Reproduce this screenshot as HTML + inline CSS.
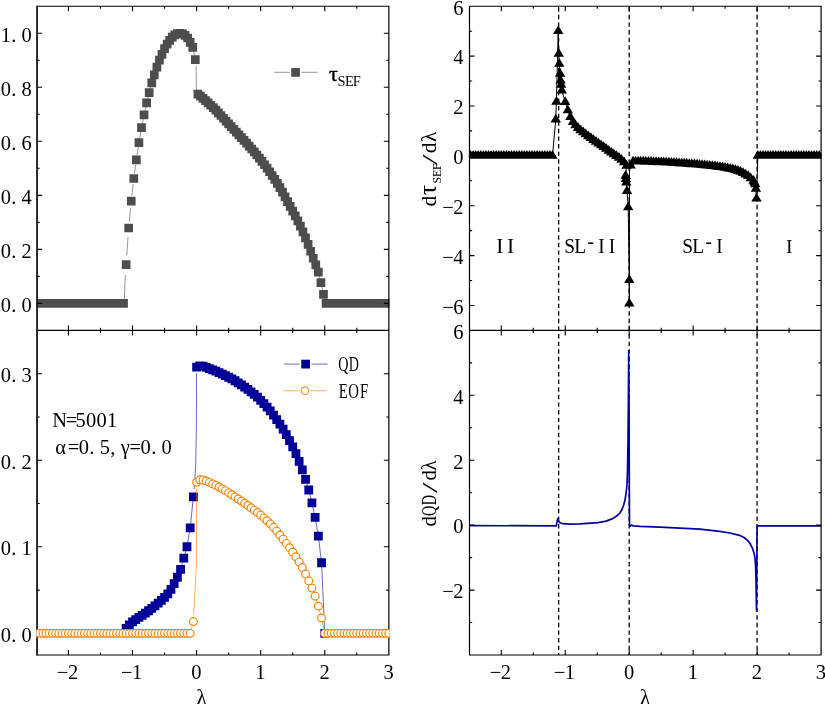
<!DOCTYPE html>
<html><head><meta charset="utf-8"><title>plot</title>
<style>html,body{margin:0;padding:0;background:#fff}svg{display:block}text{font-family:"Liberation Serif",serif;fill:#000}</style></head><body>
<svg width="825" height="704" viewBox="0 0 825 704">
<rect width="825" height="704" fill="#fff"/>
<defs>
<clipPath id="cTL"><rect x="36.5" y="5.65" width="352.95" height="325.35"/></clipPath>
<clipPath id="cBL"><rect x="36.5" y="329.8" width="352.95" height="325.8"/></clipPath>
<clipPath id="cTR"><rect x="468.9" y="5.65" width="352.8" height="325.35"/></clipPath>
<clipPath id="cBR"><rect x="468.9" y="329.8" width="352.8" height="325.8"/></clipPath>
</defs>
<path d="M558.66 7.25V655" stroke="#000" stroke-width="1.3" stroke-dasharray="4.4 3.2" fill="none"/>
<path d="M629.2 7.25V655" stroke="#000" stroke-width="1.3" stroke-dasharray="4.4 3.2" fill="none"/>
<path d="M757.1 7.25V655" stroke="#000" stroke-width="1.3" stroke-dasharray="4.4 3.2" fill="none"/>
<g clip-path="url(#cTL)">
<path d="M126.75 255.52L128.03 237.18M129.32 221.3L130.6 207.9M131.88 195.52L133.16 184.18M134.44 173.82L135.72 164.48M137.01 155.5L138.29 146.9M139.57 138.88L140.85 131.43M142.13 124.5L143.41 118.1M144.7 111.88L145.98 105.83M147.26 100.25L148.54 95.15M149.82 90.15L151.1 85.25M193.4 50.45L194.68 56.55M318.99 274.77L320.27 279.98M321.56 285.56L322.84 291.5M324.12 296.7L325.4 301.16M125.3 275L124.4 299.5M196.1 66L196.4 91.5" fill="none" stroke="#4d4d4d" stroke-width="0.6"/>
<path d="M32.05 299.04h8.7v8.7h-8.7zM34.61 299.04h8.7v8.7h-8.7zM37.18 299.04h8.7v8.7h-8.7zM39.74 299.04h8.7v8.7h-8.7zM42.3 299.04h8.7v8.7h-8.7zM44.87 299.04h8.7v8.7h-8.7zM47.43 299.04h8.7v8.7h-8.7zM49.99 299.04h8.7v8.7h-8.7zM52.56 299.04h8.7v8.7h-8.7zM55.12 299.04h8.7v8.7h-8.7zM57.68 299.04h8.7v8.7h-8.7zM60.25 299.04h8.7v8.7h-8.7zM62.81 299.04h8.7v8.7h-8.7zM65.37 299.04h8.7v8.7h-8.7zM67.93 299.04h8.7v8.7h-8.7zM70.5 299.04h8.7v8.7h-8.7zM73.06 299.04h8.7v8.7h-8.7zM75.62 299.04h8.7v8.7h-8.7zM78.19 299.04h8.7v8.7h-8.7zM80.75 299.04h8.7v8.7h-8.7zM83.31 299.04h8.7v8.7h-8.7zM85.88 299.04h8.7v8.7h-8.7zM88.44 299.04h8.7v8.7h-8.7zM91 299.04h8.7v8.7h-8.7zM93.57 299.04h8.7v8.7h-8.7zM96.13 299.04h8.7v8.7h-8.7zM98.69 299.04h8.7v8.7h-8.7zM101.26 299.04h8.7v8.7h-8.7zM103.82 299.04h8.7v8.7h-8.7zM106.38 299.04h8.7v8.7h-8.7zM108.95 299.04h8.7v8.7h-8.7zM111.51 299.04h8.7v8.7h-8.7zM114.07 299.04h8.7v8.7h-8.7zM116.64 299.04h8.7v8.7h-8.7zM119.2 299.04h8.7v8.7h-8.7zM121.76 260.35h8.7v8.7h-8.7zM124.33 223.65h8.7v8.7h-8.7zM126.89 196.85h8.7v8.7h-8.7zM129.45 174.15h8.7v8.7h-8.7zM132.01 155.45h8.7v8.7h-8.7zM134.58 138.25h8.7v8.7h-8.7zM137.14 123.35h8.7v8.7h-8.7zM139.7 110.55h8.7v8.7h-8.7zM142.27 98.45h8.7v8.7h-8.7zM144.83 88.25h8.7v8.7h-8.7zM147.39 78.45h8.7v8.7h-8.7zM149.96 70.45h8.7v8.7h-8.7zM152.52 62.75h8.7v8.7h-8.7zM155.08 55.75h8.7v8.7h-8.7zM157.65 50.05h8.7v8.7h-8.7zM160.21 44.25h8.7v8.7h-8.7zM162.77 39.75h8.7v8.7h-8.7zM165.34 35.95h8.7v8.7h-8.7zM167.9 32.75h8.7v8.7h-8.7zM170.46 30.45h8.7v8.7h-8.7zM173.03 29.15h8.7v8.7h-8.7zM175.59 28.95h8.7v8.7h-8.7zM178.15 29.55h8.7v8.7h-8.7zM180.72 31.05h8.7v8.7h-8.7zM183.28 33.65h8.7v8.7h-8.7zM185.84 37.95h8.7v8.7h-8.7zM188.41 43.05h8.7v8.7h-8.7zM190.97 55.25h8.7v8.7h-8.7zM193.53 89.69h8.7v8.7h-8.7zM196.09 91.78h8.7v8.7h-8.7zM198.66 93.95h8.7v8.7h-8.7zM201.22 96.2h8.7v8.7h-8.7zM203.78 98.51h8.7v8.7h-8.7zM206.35 100.88h8.7v8.7h-8.7zM208.91 103.31h8.7v8.7h-8.7zM211.47 105.82h8.7v8.7h-8.7zM214.04 108.44h8.7v8.7h-8.7zM216.6 111.14h8.7v8.7h-8.7zM219.16 113.91h8.7v8.7h-8.7zM221.73 116.7h8.7v8.7h-8.7zM224.29 119.48h8.7v8.7h-8.7zM226.85 122.24h8.7v8.7h-8.7zM229.42 124.99h8.7v8.7h-8.7zM231.98 127.73h8.7v8.7h-8.7zM234.54 130.48h8.7v8.7h-8.7zM237.11 133.24h8.7v8.7h-8.7zM239.67 136.02h8.7v8.7h-8.7zM242.23 138.84h8.7v8.7h-8.7zM244.8 141.71h8.7v8.7h-8.7zM247.36 144.63h8.7v8.7h-8.7zM249.92 147.61h8.7v8.7h-8.7zM252.49 150.67h8.7v8.7h-8.7zM255.05 153.81h8.7v8.7h-8.7zM257.61 157.04h8.7v8.7h-8.7zM260.17 160.38h8.7v8.7h-8.7zM262.74 163.84h8.7v8.7h-8.7zM265.3 167.42h8.7v8.7h-8.7zM267.86 171.14h8.7v8.7h-8.7zM270.43 175.01h8.7v8.7h-8.7zM272.99 179.06h8.7v8.7h-8.7zM275.55 183.36h8.7v8.7h-8.7zM278.12 187.86h8.7v8.7h-8.7zM280.68 192.5h8.7v8.7h-8.7zM283.24 197.23h8.7v8.7h-8.7zM285.81 201.99h8.7v8.7h-8.7zM288.37 206.75h8.7v8.7h-8.7zM290.93 211.59h8.7v8.7h-8.7zM293.5 216.6h8.7v8.7h-8.7zM296.06 221.85h8.7v8.7h-8.7zM298.62 227.45h8.7v8.7h-8.7zM301.19 233.57h8.7v8.7h-8.7zM303.75 240.04h8.7v8.7h-8.7zM306.31 246.89h8.7v8.7h-8.7zM308.88 253.9h8.7v8.7h-8.7zM311.44 260.46h8.7v8.7h-8.7zM314 267.82h8.7v8.7h-8.7zM316.57 278.24h8.7v8.7h-8.7zM319.13 290.12h8.7v8.7h-8.7zM321.69 299.04h8.7v8.7h-8.7zM324.25 299.04h8.7v8.7h-8.7zM326.82 299.04h8.7v8.7h-8.7zM329.38 299.04h8.7v8.7h-8.7zM331.94 299.04h8.7v8.7h-8.7zM334.51 299.04h8.7v8.7h-8.7zM337.07 299.04h8.7v8.7h-8.7zM339.63 299.04h8.7v8.7h-8.7zM342.2 299.04h8.7v8.7h-8.7zM344.76 299.04h8.7v8.7h-8.7zM347.32 299.04h8.7v8.7h-8.7zM349.89 299.04h8.7v8.7h-8.7zM352.45 299.04h8.7v8.7h-8.7zM355.01 299.04h8.7v8.7h-8.7zM357.58 299.04h8.7v8.7h-8.7zM360.14 299.04h8.7v8.7h-8.7zM362.7 299.04h8.7v8.7h-8.7zM365.27 299.04h8.7v8.7h-8.7zM367.83 299.04h8.7v8.7h-8.7zM370.39 299.04h8.7v8.7h-8.7zM372.96 299.04h8.7v8.7h-8.7zM375.52 299.04h8.7v8.7h-8.7zM378.08 299.04h8.7v8.7h-8.7zM380.65 299.04h8.7v8.7h-8.7zM383.21 299.04h8.7v8.7h-8.7z" fill="#4d4d4d"/>
</g>
<g clip-path="url(#cTR)">
<path d="M470.6 155.86L473.16 155.86L475.72 155.86L478.28 155.86L480.84 155.86L483.39 155.86L485.95 155.86L488.51 155.86L491.07 155.86L493.63 155.86L496.18 155.86L498.74 155.86L501.3 155.86L503.86 155.86L506.42 155.86L508.97 155.86L511.53 155.86L514.09 155.86L516.65 155.86L519.21 155.86L521.76 155.86L524.32 155.86L526.88 155.86L529.44 155.86L532 155.86L534.55 155.86L537.11 155.86L539.67 155.86L542.23 155.86L544.79 155.86L547.34 155.86L549.9 155.86L552.46 155.86L555.75 119.7L556.4 101.75L558.2 31.18L558.75 53.88L559.3 63.85L560.1 73.82L560.6 80.56L561.2 84.79L561.8 90.53L565.25 102.08L567.81 110.32L570.37 117.19L572.92 122L575.48 125.32L578.04 127.97L580.6 130.28L583.16 132.36L585.71 134.29L588.27 136.23L590.83 138.14L593.39 139.99L595.95 141.75L598.5 143.47L601.06 145.24L603.62 147.03L606.18 148.84L608.74 150.71L611.29 152.59L613.85 154.37L616.41 156.07L618.97 157.9L621.53 159.88L624.08 162.3L626.64 165.83L625.6 175.81L625.9 179.05L626.3 182.54L627 191.02L628.2 207.22L629.3 280.03L629.3 303.47L629.5 170.82L630.7 165.58L633.04 161.48L635.6 161.52L638.15 161.58L640.71 161.64L643.27 161.71L645.83 161.78L648.38 161.87L650.94 161.95L653.5 162.04L656.06 162.14L658.62 162.24L661.18 162.34L663.73 162.45L666.29 162.57L668.85 162.7L671.41 162.85L673.97 163L676.52 163.16L679.08 163.32L681.64 163.5L684.2 163.67L686.76 163.86L689.31 164.04L691.87 164.23L694.43 164.42L696.99 164.62L699.55 164.82L702.1 165.04L704.66 165.27L707.22 165.52L709.78 165.79L712.34 166.08L714.89 166.39L717.45 166.71L720.01 167.07L722.57 167.45L725.13 167.87L727.68 168.34L730.24 168.85L732.8 169.43L735.36 170.07L737.92 170.87L740.47 171.9L743.03 173.13L745.59 174.54L748.15 176.18L750.71 178.35L753.6 180.79L754.4 182.54L755.3 184.28L755.9 188.77L756.5 198.5L757.8 155.86L760.36 155.86L762.92 155.86L765.48 155.86L768.04 155.86L770.59 155.86L773.15 155.86L775.71 155.86L778.27 155.86L780.83 155.86L783.38 155.86L785.94 155.86L788.5 155.86L791.06 155.86L793.62 155.86L796.17 155.86L798.73 155.86L801.29 155.86L803.85 155.86L806.41 155.86L808.96 155.86L811.52 155.86L814.08 155.86L816.64 155.86L819.2 155.86" fill="none" stroke="#000" stroke-width="1"/>
<path d="M470.6 150.02l5.2 8.75h-10.4zM473.16 150.02l5.2 8.75h-10.4zM475.72 150.02l5.2 8.75h-10.4zM478.28 150.02l5.2 8.75h-10.4zM480.84 150.02l5.2 8.75h-10.4zM483.39 150.02l5.2 8.75h-10.4zM485.95 150.02l5.2 8.75h-10.4zM488.51 150.02l5.2 8.75h-10.4zM491.07 150.02l5.2 8.75h-10.4zM493.63 150.02l5.2 8.75h-10.4zM496.18 150.02l5.2 8.75h-10.4zM498.74 150.02l5.2 8.75h-10.4zM501.3 150.02l5.2 8.75h-10.4zM503.86 150.02l5.2 8.75h-10.4zM506.42 150.02l5.2 8.75h-10.4zM508.97 150.02l5.2 8.75h-10.4zM511.53 150.02l5.2 8.75h-10.4zM514.09 150.02l5.2 8.75h-10.4zM516.65 150.02l5.2 8.75h-10.4zM519.21 150.02l5.2 8.75h-10.4zM521.76 150.02l5.2 8.75h-10.4zM524.32 150.02l5.2 8.75h-10.4zM526.88 150.02l5.2 8.75h-10.4zM529.44 150.02l5.2 8.75h-10.4zM532 150.02l5.2 8.75h-10.4zM534.55 150.02l5.2 8.75h-10.4zM537.11 150.02l5.2 8.75h-10.4zM539.67 150.02l5.2 8.75h-10.4zM542.23 150.02l5.2 8.75h-10.4zM544.79 150.02l5.2 8.75h-10.4zM547.34 150.02l5.2 8.75h-10.4zM549.9 150.02l5.2 8.75h-10.4zM552.46 150.02l5.2 8.75h-10.4zM555.75 113.87l5.2 8.75h-10.4zM556.4 95.92l5.2 8.75h-10.4zM558.2 25.35l5.2 8.75h-10.4zM558.75 48.04l5.2 8.75h-10.4zM559.3 58.02l5.2 8.75h-10.4zM560.1 67.99l5.2 8.75h-10.4zM560.6 74.72l5.2 8.75h-10.4zM561.2 78.96l5.2 8.75h-10.4zM561.8 84.7l5.2 8.75h-10.4zM565.25 96.25l5.2 8.75h-10.4zM567.81 104.49l5.2 8.75h-10.4zM570.37 111.36l5.2 8.75h-10.4zM572.92 116.17l5.2 8.75h-10.4zM575.48 119.48l5.2 8.75h-10.4zM578.04 122.14l5.2 8.75h-10.4zM580.6 124.45l5.2 8.75h-10.4zM583.16 126.52l5.2 8.75h-10.4zM585.71 128.46l5.2 8.75h-10.4zM588.27 130.39l5.2 8.75h-10.4zM590.83 132.31l5.2 8.75h-10.4zM593.39 134.16l5.2 8.75h-10.4zM595.95 135.92l5.2 8.75h-10.4zM598.5 137.64l5.2 8.75h-10.4zM601.06 139.41l5.2 8.75h-10.4zM603.62 141.19l5.2 8.75h-10.4zM606.18 143.01l5.2 8.75h-10.4zM608.74 144.88l5.2 8.75h-10.4zM611.29 146.75l5.2 8.75h-10.4zM613.85 148.54l5.2 8.75h-10.4zM616.41 150.24l5.2 8.75h-10.4zM618.97 152.07l5.2 8.75h-10.4zM621.53 154.05l5.2 8.75h-10.4zM624.08 156.47l5.2 8.75h-10.4zM626.64 160l5.2 8.75h-10.4zM625.6 169.97l5.2 8.75h-10.4zM625.9 173.21l5.2 8.75h-10.4zM626.3 176.7l5.2 8.75h-10.4zM627 185.18l5.2 8.75h-10.4zM628.2 201.39l5.2 8.75h-10.4zM629.3 274.2l5.2 8.75h-10.4zM629.3 297.64l5.2 8.75h-10.4zM630.7 159.75l5.2 8.75h-10.4zM633.04 155.64l5.2 8.75h-10.4zM635.6 155.69l5.2 8.75h-10.4zM638.15 155.74l5.2 8.75h-10.4zM640.71 155.81l5.2 8.75h-10.4zM643.27 155.87l5.2 8.75h-10.4zM645.83 155.95l5.2 8.75h-10.4zM648.38 156.03l5.2 8.75h-10.4zM650.94 156.12l5.2 8.75h-10.4zM653.5 156.21l5.2 8.75h-10.4zM656.06 156.31l5.2 8.75h-10.4zM658.62 156.41l5.2 8.75h-10.4zM661.18 156.51l5.2 8.75h-10.4zM663.73 156.62l5.2 8.75h-10.4zM666.29 156.74l5.2 8.75h-10.4zM668.85 156.87l5.2 8.75h-10.4zM671.41 157.01l5.2 8.75h-10.4zM673.97 157.17l5.2 8.75h-10.4zM676.52 157.32l5.2 8.75h-10.4zM679.08 157.49l5.2 8.75h-10.4zM681.64 157.66l5.2 8.75h-10.4zM684.2 157.84l5.2 8.75h-10.4zM686.76 158.02l5.2 8.75h-10.4zM689.31 158.21l5.2 8.75h-10.4zM691.87 158.39l5.2 8.75h-10.4zM694.43 158.58l5.2 8.75h-10.4zM696.99 158.78l5.2 8.75h-10.4zM699.55 158.99l5.2 8.75h-10.4zM702.1 159.21l5.2 8.75h-10.4zM704.66 159.44l5.2 8.75h-10.4zM707.22 159.69l5.2 8.75h-10.4zM709.78 159.96l5.2 8.75h-10.4zM712.34 160.25l5.2 8.75h-10.4zM714.89 160.56l5.2 8.75h-10.4zM717.45 160.88l5.2 8.75h-10.4zM720.01 161.23l5.2 8.75h-10.4zM722.57 161.62l5.2 8.75h-10.4zM725.13 162.04l5.2 8.75h-10.4zM727.68 162.5l5.2 8.75h-10.4zM730.24 163.02l5.2 8.75h-10.4zM732.8 163.6l5.2 8.75h-10.4zM735.36 164.24l5.2 8.75h-10.4zM737.92 165.04l5.2 8.75h-10.4zM740.47 166.07l5.2 8.75h-10.4zM743.03 167.3l5.2 8.75h-10.4zM745.59 168.71l5.2 8.75h-10.4zM748.15 170.35l5.2 8.75h-10.4zM750.71 172.52l5.2 8.75h-10.4zM753.6 174.96l5.2 8.75h-10.4zM754.4 176.7l5.2 8.75h-10.4zM755.3 178.45l5.2 8.75h-10.4zM755.9 182.94l5.2 8.75h-10.4zM756.5 192.66l5.2 8.75h-10.4zM757.8 150.02l5.2 8.75h-10.4zM760.36 150.02l5.2 8.75h-10.4zM762.92 150.02l5.2 8.75h-10.4zM765.48 150.02l5.2 8.75h-10.4zM768.04 150.02l5.2 8.75h-10.4zM770.59 150.02l5.2 8.75h-10.4zM773.15 150.02l5.2 8.75h-10.4zM775.71 150.02l5.2 8.75h-10.4zM778.27 150.02l5.2 8.75h-10.4zM780.83 150.02l5.2 8.75h-10.4zM783.38 150.02l5.2 8.75h-10.4zM785.94 150.02l5.2 8.75h-10.4zM788.5 150.02l5.2 8.75h-10.4zM791.06 150.02l5.2 8.75h-10.4zM793.62 150.02l5.2 8.75h-10.4zM796.17 150.02l5.2 8.75h-10.4zM798.73 150.02l5.2 8.75h-10.4zM801.29 150.02l5.2 8.75h-10.4zM803.85 150.02l5.2 8.75h-10.4zM806.41 150.02l5.2 8.75h-10.4zM808.96 150.02l5.2 8.75h-10.4zM811.52 150.02l5.2 8.75h-10.4zM814.08 150.02l5.2 8.75h-10.4zM816.64 150.02l5.2 8.75h-10.4zM819.2 150.02l5.2 8.75h-10.4z" fill="#000"/>
</g>
<g clip-path="url(#cBR)">
<path d="M469.5 525.66L556.3 525.8L557 522L557.7 518.6L558.6 521L560 522.8L563 523.7L569 524.1L580 523.8L598.2 522.7L606 521.1L612.7 518.6L617 515.8L620 512.8L622 509.5L623.6 505.2L625 500L625.8 495L626.5 489.5L627 484.9L627.5 470.5L628 440.5L628.4 400.5L628.7 350.8L629 400.5L629.3 480.5L629.5 525.3L630.2 526.1L631.5 525L633 525.8L640 526.4L660 527.2L699.8 529.1L719.6 531.3L730 533L739.5 535.3L744 537.5L747.5 540.3L750 543.5L752.4 548.2L754 553L755 558.2L755.6 566.5L756 580L756.3 597.5L756.5 610.8L756.8 570.5L757.1 525.8L821.1 525.8" fill="none" stroke="#0000a8" stroke-width="1.7" stroke-linejoin="round"/>
</g>
<path d="M37.1 6.25H388.85V655H37.1Z M37.1 330.4H388.85" fill="none" stroke="#000" stroke-width="1.2"/>
<path d="M37.1 5.65V655.6" fill="none" stroke="#222" stroke-width="1.7"/>
<path d="M469.5 6.25H821.1V655H469.5Z M469.5 330.4H821.1" fill="none" stroke="#000" stroke-width="1.2"/>
<path d="M68.44 6.25V11.25M68.44 325.4V335.4M68.44 650V655M100.48 6.25V8.85M100.48 327.8V333M100.48 652.4V655M132.52 6.25V11.25M132.52 325.4V335.4M132.52 650V655M164.56 6.25V8.85M164.56 327.8V333M164.56 652.4V655M196.6 6.25V11.25M196.6 325.4V335.4M196.6 650V655M228.64 6.25V8.85M228.64 327.8V333M228.64 652.4V655M260.68 6.25V11.25M260.68 325.4V335.4M260.68 650V655M292.72 6.25V8.85M292.72 327.8V333M292.72 652.4V655M324.76 6.25V11.25M324.76 325.4V335.4M324.76 650V655M356.8 6.25V8.85M356.8 327.8V333M356.8 652.4V655M501.3 6.25V11.25M501.3 325.4V335.4M501.3 650V655M533.28 6.25V8.85M533.28 327.8V333M533.28 652.4V655M565.25 6.25V11.25M565.25 325.4V335.4M565.25 650V655M597.23 6.25V8.85M597.23 327.8V333M597.23 652.4V655M629.2 6.25V11.25M629.2 325.4V335.4M629.2 650V655M661.18 6.25V8.85M661.18 327.8V333M661.18 652.4V655M693.15 6.25V11.25M693.15 325.4V335.4M693.15 650V655M725.12 6.25V8.85M725.12 327.8V333M725.12 652.4V655M757.1 6.25V11.25M757.1 325.4V335.4M757.1 650V655M789.08 6.25V8.85M789.08 327.8V333M789.08 652.4V655M37.1 303.39H42.1M383.85 303.39H388.85M37.1 249.36H42.1M383.85 249.36H388.85M37.1 195.34H42.1M383.85 195.34H388.85M37.1 141.31H42.1M383.85 141.31H388.85M37.1 87.29H42.1M383.85 87.29H388.85M37.1 33.26H42.1M383.85 33.26H388.85M37.1 276.38H39.7M386.25 276.38H388.85M37.1 222.35H39.7M386.25 222.35H388.85M37.1 168.32H39.7M386.25 168.32H388.85M37.1 114.3H39.7M386.25 114.3H388.85M37.1 60.27H39.7M386.25 60.27H388.85M37.1 633.36H42.1M383.85 633.36H388.85M37.1 546.8H42.1M383.85 546.8H388.85M37.1 460.24H42.1M383.85 460.24H388.85M37.1 373.68H42.1M383.85 373.68H388.85M37.1 590.08H39.7M386.25 590.08H388.85M37.1 503.52H39.7M386.25 503.52H388.85M37.1 416.96H39.7M386.25 416.96H388.85M469.5 305.47H474.5M816.1 305.47H821.1M469.5 255.6H474.5M816.1 255.6H821.1M469.5 205.73H474.5M816.1 205.73H821.1M469.5 155.86H474.5M816.1 155.86H821.1M469.5 105.99H474.5M816.1 105.99H821.1M469.5 56.12H474.5M816.1 56.12H821.1M469.5 280.53H472.1M818.5 280.53H821.1M469.5 230.66H472.1M818.5 230.66H821.1M469.5 180.79H472.1M818.5 180.79H821.1M469.5 130.92H472.1M818.5 130.92H821.1M469.5 81.05H472.1M818.5 81.05H821.1M469.5 31.18H472.1M818.5 31.18H821.1M469.5 590.08H474.5M816.1 590.08H821.1M469.5 525.16H474.5M816.1 525.16H821.1M469.5 460.24H474.5M816.1 460.24H821.1M469.5 395.32H474.5M816.1 395.32H821.1M469.5 622.54H472.1M818.5 622.54H821.1M469.5 557.62H472.1M818.5 557.62H821.1M469.5 492.7H472.1M818.5 492.7H821.1M469.5 427.78H472.1M818.5 427.78H821.1M469.5 362.86H472.1M818.5 362.86H821.1" fill="none" stroke="#000" stroke-width="1.1"/>
<g clip-path="url(#cBL)">
<path d="M180.77 568.63L183.59 558.73M183.98 557.38L186.8 547.41M187.18 545.6L190 528.94M190.38 525.94L193.2 498.68M299.32 461.87L302.14 469.36M302.52 470.44L305.34 478.75M305.73 479.96L308.55 489.36M308.93 490.77L311.75 502.05M312.14 503.69L314.96 516.52M315.34 518.51L318.16 534.99M318.54 537.71L321.36 561.16M321.75 567L324.57 629.12M196.55 373L196.35 430L195.7 466L194.1 489" fill="none" stroke="#000099" stroke-width="0.6"/>
<path d="M121.71 624.12h8.8v8.8h-8.8zM124.92 620.54h8.8v8.8h-8.8zM128.12 617.52h8.8v8.8h-8.8zM131.32 615.14h8.8v8.8h-8.8zM134.53 613.07h8.8v8.8h-8.8zM137.73 610.96h8.8v8.8h-8.8zM140.94 608.67h8.8v8.8h-8.8zM144.14 606.36h8.8v8.8h-8.8zM147.34 603.95h8.8v8.8h-8.8zM150.55 601.39h8.8v8.8h-8.8zM153.75 598.73h8.8v8.8h-8.8zM156.96 595.98h8.8v8.8h-8.8zM160.16 592.94h8.8v8.8h-8.8zM163.36 589.41h8.8v8.8h-8.8zM166.57 584.92h8.8v8.8h-8.8zM169.77 579.32h8.8v8.8h-8.8zM172.98 572.86h8.8v8.8h-8.8zM176.18 564.91h8.8v8.8h-8.8zM179.38 553.66h8.8v8.8h-8.8zM182.59 542.34h8.8v8.8h-8.8zM185.79 523.4h8.8v8.8h-8.8zM189 492.42h8.8v8.8h-8.8zM192.2 362.73h8.8v8.8h-8.8zM195.4 361.4h8.8v8.8h-8.8zM198.61 361.8h8.8v8.8h-8.8zM201.81 362.93h8.8v8.8h-8.8zM205.02 364.16h8.8v8.8h-8.8zM208.22 365.43h8.8v8.8h-8.8zM211.42 366.76h8.8v8.8h-8.8zM214.63 368.16h8.8v8.8h-8.8zM217.83 369.63h8.8v8.8h-8.8zM221.04 371.19h8.8v8.8h-8.8zM224.24 372.83h8.8v8.8h-8.8zM227.44 374.53h8.8v8.8h-8.8zM230.65 376.35h8.8v8.8h-8.8zM233.85 378.38h8.8v8.8h-8.8zM237.06 380.55h8.8v8.8h-8.8zM240.26 382.74h8.8v8.8h-8.8zM243.46 384.99h8.8v8.8h-8.8zM246.67 387.4h8.8v8.8h-8.8zM249.87 389.98h8.8v8.8h-8.8zM253.08 392.77h8.8v8.8h-8.8zM256.28 395.91h8.8v8.8h-8.8zM259.48 399.3h8.8v8.8h-8.8zM262.69 402.77h8.8v8.8h-8.8zM265.89 406.51h8.8v8.8h-8.8zM269.1 410.71h8.8v8.8h-8.8zM272.3 415.18h8.8v8.8h-8.8zM275.5 419.73h8.8v8.8h-8.8zM278.71 424.64h8.8v8.8h-8.8zM281.91 430.2h8.8v8.8h-8.8zM285.12 436.21h8.8v8.8h-8.8zM288.32 442.47h8.8v8.8h-8.8zM291.52 449.3h8.8v8.8h-8.8zM294.73 456.96h8.8v8.8h-8.8zM297.93 465.47h8.8v8.8h-8.8zM301.14 474.92h8.8v8.8h-8.8zM304.34 485.6h8.8v8.8h-8.8zM307.54 498.42h8.8v8.8h-8.8zM310.75 512.99h8.8v8.8h-8.8zM313.95 531.71h8.8v8.8h-8.8zM317.16 558.36h8.8v8.8h-8.8zM320.36 628.96h8.8v8.8h-8.8z" fill="#000099"/>
<path d="M190.83 631.01L192.76 623.95M193.7 615.2L196.5 562L196.4 488.6M315.79 598.2L317.71 604.2M318.99 608.56L320.92 615.63M322.2 621.06L324.12 630.28" fill="none" stroke="#ff8000" stroke-width="0.6"/>
<g fill="#fff" stroke="#ff8000" stroke-width="1.15">
<circle cx="36.4" cy="633.36" r="3.9"/>
<circle cx="39.6" cy="633.36" r="3.9"/>
<circle cx="42.81" cy="633.36" r="3.9"/>
<circle cx="46.01" cy="633.36" r="3.9"/>
<circle cx="49.22" cy="633.36" r="3.9"/>
<circle cx="52.42" cy="633.36" r="3.9"/>
<circle cx="55.62" cy="633.36" r="3.9"/>
<circle cx="58.83" cy="633.36" r="3.9"/>
<circle cx="62.03" cy="633.36" r="3.9"/>
<circle cx="65.24" cy="633.36" r="3.9"/>
<circle cx="68.44" cy="633.36" r="3.9"/>
<circle cx="71.64" cy="633.36" r="3.9"/>
<circle cx="74.85" cy="633.36" r="3.9"/>
<circle cx="78.05" cy="633.36" r="3.9"/>
<circle cx="81.26" cy="633.36" r="3.9"/>
<circle cx="84.46" cy="633.36" r="3.9"/>
<circle cx="87.66" cy="633.36" r="3.9"/>
<circle cx="90.87" cy="633.36" r="3.9"/>
<circle cx="94.07" cy="633.36" r="3.9"/>
<circle cx="97.28" cy="633.36" r="3.9"/>
<circle cx="100.48" cy="633.36" r="3.9"/>
<circle cx="103.68" cy="633.36" r="3.9"/>
<circle cx="106.89" cy="633.36" r="3.9"/>
<circle cx="110.09" cy="633.36" r="3.9"/>
<circle cx="113.3" cy="633.36" r="3.9"/>
<circle cx="116.5" cy="633.36" r="3.9"/>
<circle cx="119.7" cy="633.36" r="3.9"/>
<circle cx="122.91" cy="633.36" r="3.9"/>
<circle cx="126.11" cy="633.36" r="3.9"/>
<circle cx="129.32" cy="633.36" r="3.9"/>
<circle cx="132.52" cy="633.36" r="3.9"/>
<circle cx="135.72" cy="633.36" r="3.9"/>
<circle cx="138.93" cy="633.36" r="3.9"/>
<circle cx="142.13" cy="633.36" r="3.9"/>
<circle cx="145.34" cy="633.36" r="3.9"/>
<circle cx="148.54" cy="633.36" r="3.9"/>
<circle cx="151.74" cy="633.36" r="3.9"/>
<circle cx="154.95" cy="633.36" r="3.9"/>
<circle cx="158.15" cy="633.36" r="3.9"/>
<circle cx="161.36" cy="633.36" r="3.9"/>
<circle cx="164.56" cy="633.36" r="3.9"/>
<circle cx="167.76" cy="633.36" r="3.9"/>
<circle cx="170.97" cy="633.36" r="3.9"/>
<circle cx="174.17" cy="633.36" r="3.9"/>
<circle cx="177.38" cy="633.36" r="3.9"/>
<circle cx="180.58" cy="633.36" r="3.9"/>
<circle cx="183.78" cy="633.36" r="3.9"/>
<circle cx="186.99" cy="633.36" r="3.9"/>
<circle cx="190.19" cy="633.36" r="3.9"/>
<circle cx="193.4" cy="621.6" r="3.9"/>
<circle cx="196.6" cy="482.25" r="3.9"/>
<circle cx="199.8" cy="479.8" r="3.9"/>
<circle cx="203.01" cy="479.9" r="3.9"/>
<circle cx="206.21" cy="480.95" r="3.9"/>
<circle cx="209.42" cy="482.42" r="3.9"/>
<circle cx="212.62" cy="483.88" r="3.9"/>
<circle cx="215.82" cy="485.43" r="3.9"/>
<circle cx="219.03" cy="487.07" r="3.9"/>
<circle cx="222.23" cy="488.81" r="3.9"/>
<circle cx="225.44" cy="490.66" r="3.9"/>
<circle cx="228.64" cy="492.66" r="3.9"/>
<circle cx="231.84" cy="494.75" r="3.9"/>
<circle cx="235.05" cy="496.88" r="3.9"/>
<circle cx="238.25" cy="498.99" r="3.9"/>
<circle cx="241.46" cy="501.12" r="3.9"/>
<circle cx="244.66" cy="503.29" r="3.9"/>
<circle cx="247.86" cy="505.51" r="3.9"/>
<circle cx="251.07" cy="507.79" r="3.9"/>
<circle cx="254.27" cy="510.15" r="3.9"/>
<circle cx="257.48" cy="512.59" r="3.9"/>
<circle cx="260.68" cy="515.16" r="3.9"/>
<circle cx="263.88" cy="517.91" r="3.9"/>
<circle cx="267.09" cy="520.76" r="3.9"/>
<circle cx="270.29" cy="523.79" r="3.9"/>
<circle cx="273.5" cy="527.31" r="3.9"/>
<circle cx="276.7" cy="531.12" r="3.9"/>
<circle cx="279.9" cy="535.03" r="3.9"/>
<circle cx="283.11" cy="539.14" r="3.9"/>
<circle cx="286.31" cy="543.38" r="3.9"/>
<circle cx="289.52" cy="547.7" r="3.9"/>
<circle cx="292.72" cy="552.21" r="3.9"/>
<circle cx="295.92" cy="556.84" r="3.9"/>
<circle cx="299.13" cy="561.89" r="3.9"/>
<circle cx="302.33" cy="567.46" r="3.9"/>
<circle cx="305.54" cy="574.07" r="3.9"/>
<circle cx="308.74" cy="580.9" r="3.9"/>
<circle cx="311.94" cy="588.11" r="3.9"/>
<circle cx="315.15" cy="596.19" r="3.9"/>
<circle cx="318.35" cy="606.21" r="3.9"/>
<circle cx="321.56" cy="617.98" r="3.9"/>
<circle cx="324.76" cy="633.36" r="3.9"/>
<circle cx="327.96" cy="633.36" r="3.9"/>
<circle cx="331.17" cy="633.36" r="3.9"/>
<circle cx="334.37" cy="633.36" r="3.9"/>
<circle cx="337.58" cy="633.36" r="3.9"/>
<circle cx="340.78" cy="633.36" r="3.9"/>
<circle cx="343.98" cy="633.36" r="3.9"/>
<circle cx="347.19" cy="633.36" r="3.9"/>
<circle cx="350.39" cy="633.36" r="3.9"/>
<circle cx="353.6" cy="633.36" r="3.9"/>
<circle cx="356.8" cy="633.36" r="3.9"/>
<circle cx="360" cy="633.36" r="3.9"/>
<circle cx="363.21" cy="633.36" r="3.9"/>
<circle cx="366.41" cy="633.36" r="3.9"/>
<circle cx="369.62" cy="633.36" r="3.9"/>
<circle cx="372.82" cy="633.36" r="3.9"/>
<circle cx="376.02" cy="633.36" r="3.9"/>
<circle cx="379.23" cy="633.36" r="3.9"/>
<circle cx="382.43" cy="633.36" r="3.9"/>
<circle cx="385.64" cy="633.36" r="3.9"/>
<circle cx="388.84" cy="633.36" r="3.9"/>
</g></g>
<path d="M274.1 72.3H289.8M301.4 72.3H317.7" stroke="#4d4d4d" stroke-width="0.6" fill="none"/>
<path d="M291.25 68.05h8.7v8.7h-8.7z" fill="#4d4d4d"/>
<path d="M284.1 364.1H299.7M311.5 364.1H327.7" stroke="#000099" stroke-width="0.6" fill="none"/>
<path d="M301.2 359.7h8.8v8.8h-8.8z" fill="#000099"/>
<path d="M283.2 390.7H299.3M310.5 390.7H326.7" stroke="#ff8000" stroke-width="0.6" fill="none"/>
<circle cx="304.9" cy="390.7" r="3.9" fill="#fff" stroke="#ff8000" stroke-width="1"/>
<text font-size="22"><tspan x="328.9" y="80.6" stroke="#000" stroke-width="0.45">τ</tspan><tspan x="337.6 344.9 352.7" y="85.6" font-size="14.4">SEF</tspan></text>
<text transform="translate(338.2,371.2) scale(0.69,1)" x="0.17 15.32" y="0" font-size="20.5">QD</text>
<text transform="translate(338,398) scale(0.72,1)" x="1 14.37 30.58" y="0" font-size="20.5">EOF</text>
<text x="52.35 65.67 75.42 85.92 96.42 106.92" y="426.8" font-size="20.5">N=5001</text>
<text x="55.23 67.64 78.75 89.3 99.65 110.2 120.72 129.49 140.6 151.15 161.5" y="454" font-size="20.5">α=0.5,γ=0.0</text>
<text x="496.32 506.92" y="252.6" font-size="21.5">II</text>
<text transform="translate(564.3,252.6) scale(0.9,1)" x="-0.09 11.1 25.86 37.64 49.42" y="0" dy="0 0 -4.3 4.3 0" font-size="21.5">SL-II</text>
<text transform="translate(682.3,252.6) scale(0.9,1)" x="-0.09 11.1 25.86 37.64" y="0" dy="0 0 -4.3 4.3" font-size="21.5">SL-I</text>
<text x="789.2" y="253" font-size="19.7" text-anchor="middle">I</text>
<text x="0.65 11.2 21.55" y="41.56" font-size="20.5">1.0</text>
<text x="0.65 11.2 21.55" y="95.59" font-size="20.5">0.8</text>
<text x="0.65 11.2 21.55" y="149.61" font-size="20.5">0.6</text>
<text x="0.65 11.2 21.55" y="203.64" font-size="20.5">0.4</text>
<text x="0.65 11.2 21.55" y="257.66" font-size="20.5">0.2</text>
<text x="0.65 11.2 21.55" y="311.69" font-size="20.5">0.0</text>
<text x="0.65 11.2 21.55" y="381.98" font-size="20.5">0.3</text>
<text x="0.65 11.2 21.55" y="468.54" font-size="20.5">0.2</text>
<text x="0.65 11.2 21.55" y="555.1" font-size="20.5">0.1</text>
<text x="0.65 11.2 21.55" y="641.66" font-size="20.5">0.0</text>
<text x="453.25" y="14.55" font-size="20.5">6</text>
<text x="453.25" y="64.42" font-size="20.5">4</text>
<text x="453.25" y="114.29" font-size="20.5">2</text>
<text x="453.25" y="164.16" font-size="20.5">0</text>
<text x="442.14 453.25" y="214.03" font-size="20.5">−2</text>
<text x="442.14 453.25" y="263.9" font-size="20.5">−4</text>
<text x="442.14 453.25" y="313.77" font-size="20.5">−6</text>
<text x="453.25" y="338.7" font-size="20.5">6</text>
<text x="453.25" y="403.62" font-size="20.5">4</text>
<text x="453.25" y="468.54" font-size="20.5">2</text>
<text x="453.25" y="533.46" font-size="20.5">0</text>
<text x="442.14 453.25" y="598.38" font-size="20.5">−2</text>
<text x="56.83 67.94" y="678.8" font-size="20.5">−2</text>
<text x="120.91 132.02" y="678.8" font-size="20.5">−1</text>
<text x="191.28" y="678.8" font-size="20.5">0</text>
<text x="255.36" y="678.8" font-size="20.5">1</text>
<text x="319.44" y="678.8" font-size="20.5">2</text>
<text x="383.52" y="678.8" font-size="20.5">3</text>
<text x="489.69 500.8" y="678.8" font-size="20.5">−2</text>
<text x="553.64 564.75" y="678.8" font-size="20.5">−1</text>
<text x="623.88" y="678.8" font-size="20.5">0</text>
<text x="687.83" y="678.8" font-size="20.5">1</text>
<text x="751.77" y="678.8" font-size="20.5">2</text>
<text x="815.73" y="678.8" font-size="20.5">3</text>
<text x="201.6" y="704.7" font-size="22.2" text-anchor="middle">λ</text>
<text x="645.2" y="704.7" font-size="22.2" text-anchor="middle">λ</text>
<g transform="translate(435.7,206.6) rotate(-90)"><text font-size="21.5"><tspan x="0.2" y="0">d</tspan><tspan x="11.7" y="0" font-size="25">τ</tspan><tspan x="23 29.7 36.5" y="5.3" font-size="11.8">SEF</tspan><tspan x="41.6" y="0.8" textLength="10.6" lengthAdjust="spacingAndGlyphs">/</tspan><tspan x="53.3 64.6" y="0">dλ</tspan></text></g>
<g transform="translate(435.7,526.6) rotate(-90)"><text font-size="21" x="0.1" y="0">d</text><text font-size="21" transform="translate(10.7,0) scale(0.68,1)" x="0 15.6" y="0">QD</text><text font-size="21"><tspan x="33.6" y="0.8" textLength="10.6" lengthAdjust="spacingAndGlyphs">/</tspan><tspan x="46.0 56.0" y="0">dλ</tspan></text></g>
</svg></body></html>
